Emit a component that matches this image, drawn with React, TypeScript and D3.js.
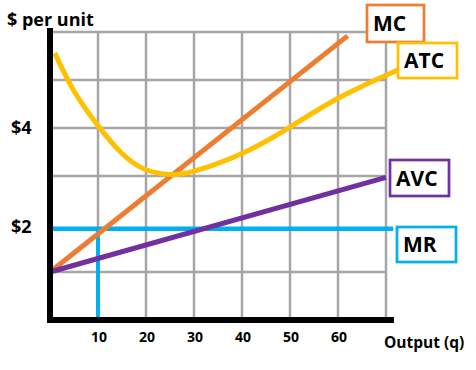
import React from 'react';
import * as d3 from 'd3';

// cost curves (q = output, p = $ per unit)
const mcQ = [0, 62];
const mcP = [1, 5.92];
const avcQ = [0, 70];
const avcP = [1, 2.97];
const atcQ = [1, 5, 10, 15, 20, 25, 30, 40, 50, 60, 70, 74.5];
const atcP = [5.56, 4.77, 4.05, 3.47, 3.13, 3.03, 3.1, 3.47, 4.02, 4.62, 5.1, 5.3];
const mrPrice = 1.9;
const mrQ = [0, 71.5];
const profitQ = 10;

const xTicks = [10, 20, 30, 40, 50, 60];
const xGrid = [10, 20, 30, 40, 50, 60, 70];
const yGrid = [1, 3, 4, 5, 6];
const yLabels = ['$2', '$4'];
const yLabelValues = [1.95, 4];

const FONT = "'Open Sans', 'DejaVu Sans', sans-serif";

const App = () => {
  const width = 476;
  const height = 370;

  const x = d3.scaleLinear().domain([0, 70]).range([50, 386]);
  const y = d3.scaleLinear().domain([0, 6]).range([320, 32]);

  const line = d3.line<[number, number]>()
    .x(d => x(d[0]))
    .y(d => y(d[1]));

  const smooth = d3.line<[number, number]>()
    .x(d => x(d[0]))
    .y(d => y(d[1]))
    .curve(d3.curveNatural);

  const mc = mcQ.map((q, i) => [q, mcP[i]] as [number, number]);
  const avc = avcQ.map((q, i) => [q, avcP[i]] as [number, number]);
  const atc = atcQ.map((q, i) => [q, atcP[i]] as [number, number]);

  // label boxes
  const boxes = [
    { text: 'MC', color: '#ED7D31', x: 367, y: 5, w: 57, h: 37 },
    { text: 'ATC', color: '#FFC000', x: 398, y: 43, w: 59, h: 35 },
    { text: 'AVC', color: '#7030A0', x: 390, y: 160, w: 59, h: 36 },
    { text: 'MR', color: '#00B0F0', x: 397, y: 227, w: 59, h: 35 },
  ];

  return (
    <svg width={width} height={height} style={{ position: 'absolute', left: 0, top: 0 }}>
      <rect width={width} height={height} fill="#fff" />

      {/* grid */}
      <g stroke="#A6A6A6" strokeWidth={2.5}>
        {xGrid.map(q => (
          <line key={'v' + q} x1={x(q)} x2={x(q)} y1={y(6)} y2={y(0)} />
        ))}
        {yGrid.map(p => (
          <line key={'h' + p} x1={x(0)} x2={x(70)} y1={y(p)} y2={y(p)} />
        ))}
      </g>

      {/* MR and the drop line */}
      <line x1={x(mrQ[0])} x2={x(mrQ[1])} y1={y(mrPrice)} y2={y(mrPrice)} stroke="#00B0F0" strokeWidth={4.5} />
      <line x1={x(profitQ)} x2={x(profitQ)} y1={y(mrPrice)} y2={y(0)} stroke="#00B0F0" strokeWidth={4} />

      <path d={line(mc) || ''} fill="none" stroke="#ED7D31" strokeWidth={5} />
      <path d={line(avc) || ''} fill="none" stroke="#7030A0" strokeWidth={5} />
      <path d={smooth(atc) || ''} fill="none" stroke="#FFC000" strokeWidth={5} />

      {/* axes */}
      <line x1={50} x2={50} y1={28} y2={323} stroke="#000" strokeWidth={6} />
      <line x1={47} x2={394} y1={320} y2={320} stroke="#000" strokeWidth={6} />

      {/* tick labels */}
      <g fontFamily={FONT} fontWeight="bold" fontSize={14} textAnchor="middle" fill="#000">
        {xTicks.map(q => (
          <text key={q} x={x(q) + 1} y={342}>{q}</text>
        ))}
      </g>
      <g fontFamily={FONT} fontWeight="bold" fontSize={18} fill="#000">
        {yLabels.map((t, i) => (
          <text key={t} x={11} y={y(yLabelValues[i])} dy="0.35em">{t}</text>
        ))}
        <text x={7} y={26}>$ per unit</text>
      </g>
      <text x={384} y={348} fontFamily={FONT} fontWeight="bold" fontSize={15.5} fill="#000">Output (q)</text>

      {boxes.map(b => (
        <g key={b.text}>
          <rect x={b.x} y={b.y} width={b.w} height={b.h} fill="#fff" stroke={b.color} strokeWidth={2.7} />
          <text x={b.x + 6} y={b.y + b.h / 2} dy="0.36em" fontFamily={FONT} fontWeight="bold" fontSize={21} fill="#000">{b.text}</text>
        </g>
      ))}
    </svg>
  );
};

export default App;
